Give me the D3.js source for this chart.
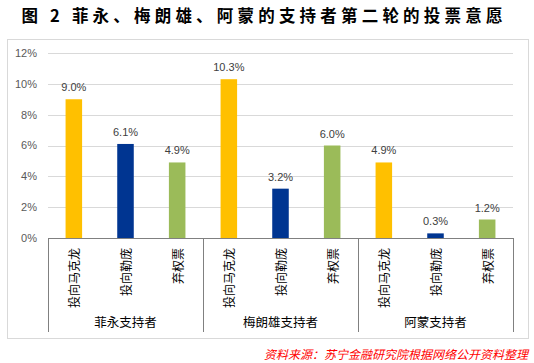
<!DOCTYPE html>
<html>
<head>
<meta charset="utf-8">
<script src="https://cdn.jsdelivr.net/npm/d3@7/dist/d3.min.js"></script>
<style>
body { margin: 0; background: #fff; font-family: "Noto Sans CJK SC", "Noto Sans", sans-serif; }
svg { display: block; }
</style>
</head>
<body>
<svg width="534" height="363"></svg>
<script>
// data
var groups = ["菲永支持者", "梅朗雄支持者", "阿蒙支持者"];
var choices = ["投向马克龙", "投向勒庞", "弃权票"];
var fillonVals = [9.0, 6.1, 4.9];
var melenchonVals = [10.3, 3.2, 6.0];
var hamonVals = [4.9, 0.3, 1.2];
var yTicks = [0, 2, 4, 6, 8, 10, 12];
var colors = ["#FFC000", "#003591", "#9BBB59"];

var allVals = [fillonVals, melenchonVals, hamonVals];
var data = [];
groups.forEach(function (g, gi) {
  choices.forEach(function (c, ci) {
    data.push({ group: g, choice: c, value: allVals[gi][ci] });
  });
});

var svg = d3.select("svg");

// title
svg.append("text")
  .attr("x", 264).attr("y", 22)
  .attr("text-anchor", "middle")
  .attr("font-size", "16.5px")
  .attr("font-weight", "bold")
  .attr("letter-spacing", "4.2px")
  .attr("fill", "#000")
  .text("图 2 菲永、梅朗雄、阿蒙的支持者第二轮的投票意愿");

// chart frame
svg.append("rect")
  .attr("x", 7.5).attr("y", 39.5)
  .attr("width", 521).attr("height", 299)
  .attr("fill", "#fff")
  .attr("stroke", "#d9d9d9");

var x0 = d3.scaleBand().domain(groups).range([48, 513]);
var x1 = d3.scaleBand().domain(choices).range([0, x0.bandwidth()])
  .paddingInner(0.68).paddingOuter(0.34);
var y = d3.scaleLinear().domain([0, 12]).range([238, 53]);

// gridlines
svg.append("g").selectAll("line")
  .data(yTicks.slice(1))
  .join("line")
  .attr("x1", 48).attr("x2", 513)
  .attr("y1", d => Math.round(y(d)) + 0.5)
  .attr("y2", d => Math.round(y(d)) + 0.5)
  .attr("stroke", "#d9d9d9");

// y tick labels
svg.append("g").selectAll("text")
  .data(yTicks)
  .join("text")
  .attr("x", 37)
  .attr("y", d => y(d))
  .attr("dy", "0.35em")
  .attr("text-anchor", "end")
  .attr("font-size", "11px")
  .attr("fill", "#595959")
  .attr("font-family", "'Liberation Sans', Arial, sans-serif")
  .text(d => d + "%");

// bars
svg.append("g").selectAll("rect")
  .data(data)
  .join("rect")
  .attr("x", d => x0(d.group) + x1(d.choice))
  .attr("y", d => y(d.value))
  .attr("width", x1.bandwidth())
  .attr("height", d => y(0) - y(d.value))
  .attr("fill", d => colors[choices.indexOf(d.choice)]);

// value labels
svg.append("g").selectAll("text")
  .data(data)
  .join("text")
  .attr("x", d => x0(d.group) + x1(d.choice) + x1.bandwidth() / 2)
  .attr("y", d => y(d.value) - 8)
  .attr("text-anchor", "middle")
  .attr("font-size", "11px")
  .attr("fill", "#404040")
  .attr("font-family", "'Liberation Sans', Arial, sans-serif")
  .text(d => d.value.toFixed(1) + "%");

// category axis: baseline + group separators
svg.append("line")
  .attr("x1", 48).attr("x2", 513)
  .attr("y1", 238.5).attr("y2", 238.5)
  .attr("stroke", "#808080");

var seps = groups.map(g => x0(g)).concat([x0.range()[1]]);
svg.append("g").selectAll("line")
  .data(seps)
  .join("line")
  .attr("x1", d => Math.round(d) + 0.5).attr("x2", d => Math.round(d) + 0.5)
  .attr("y1", 238).attr("y2", 332)
  .attr("stroke", "#808080");

// rotated choice labels
svg.append("g").selectAll("text")
  .data(data)
  .join("text")
  .attr("transform", d => "translate(" + (x0(d.group) + x1(d.choice) + x1.bandwidth() / 2) + ",248) rotate(-90)")
  .attr("text-anchor", "end")
  .attr("dominant-baseline", "central")
  .attr("font-size", "12px")
  .attr("fill", "#000")
  .text(d => d.choice);

// group labels
svg.append("g").selectAll("text")
  .data(groups)
  .join("text")
  .attr("x", d => x0(d) + x0.bandwidth() / 2)
  .attr("y", 327)
  .attr("text-anchor", "middle")
  .attr("font-size", "12.5px")
  .attr("fill", "#000")
  .text(d => d);

// source note
svg.append("text")
  .attr("x", 528).attr("y", 359)
  .attr("text-anchor", "end")
  .attr("font-size", "12px")
  .attr("font-style", "italic")
  .attr("fill", "#ff0000")
  .text("资料来源：苏宁金融研究院根据网络公开资料整理");
</script>
</body>
</html>
